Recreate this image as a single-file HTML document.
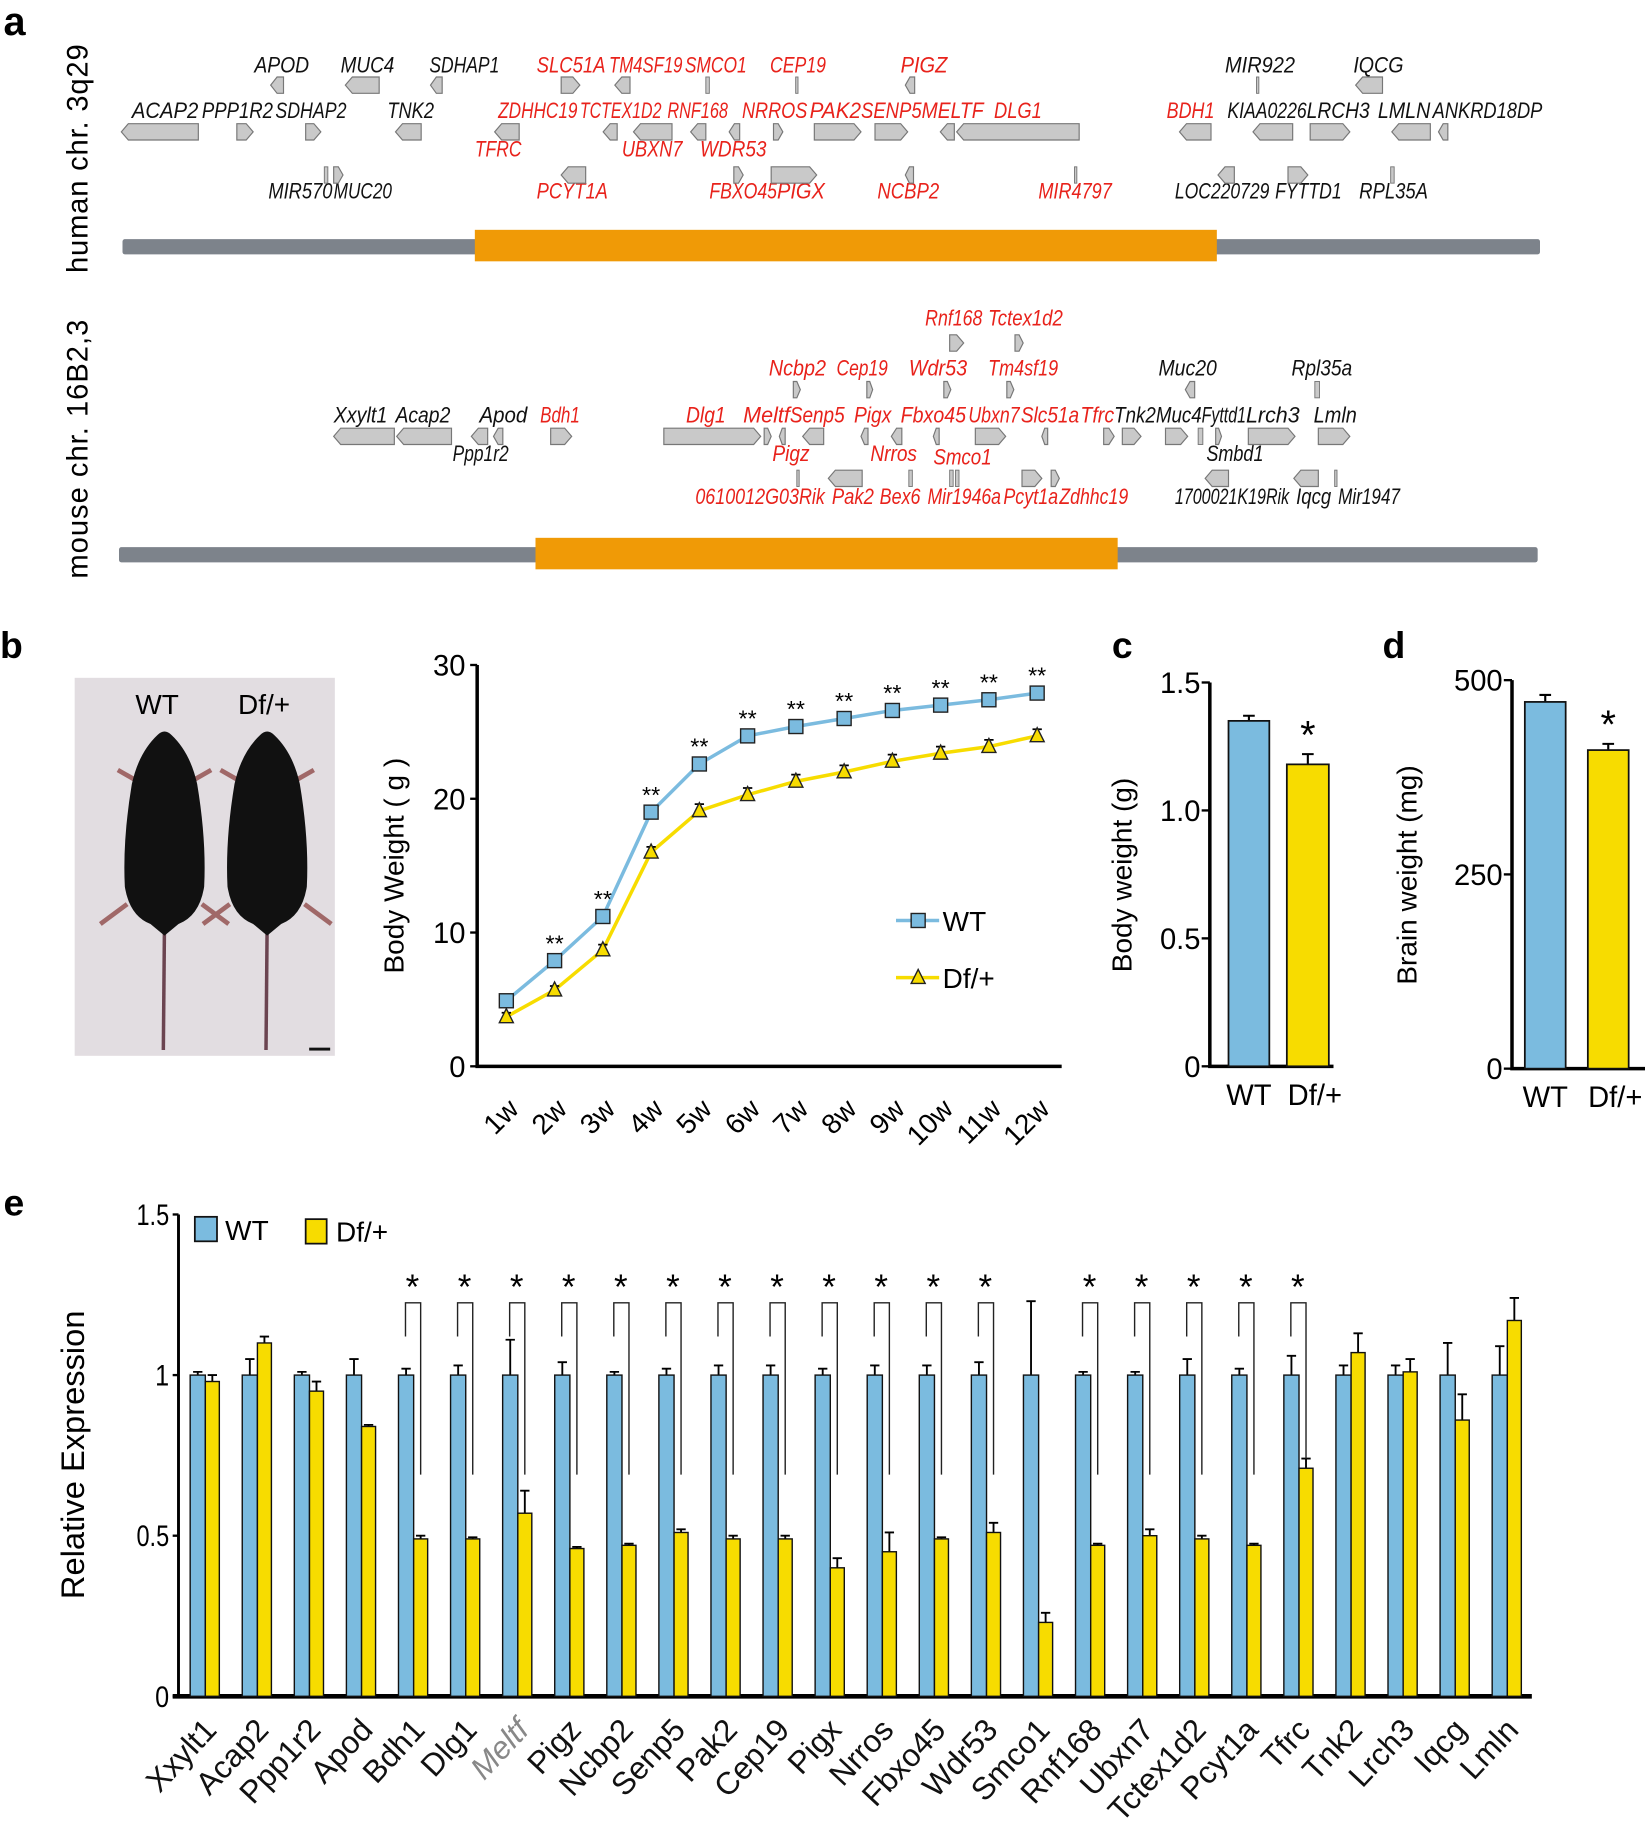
<!DOCTYPE html>
<html><head><meta charset="utf-8"><style>
html,body{margin:0;padding:0;background:#fff;}
svg{display:block;}
text{font-family:"Liberation Sans",sans-serif;}
.g{font-style:italic;font-size:19px;}
</style></head><body>
<svg id="fig" xmlns="http://www.w3.org/2000/svg" width="1645" height="1830" viewBox="0 0 1410 1568.6" preserveAspectRatio="none">
<g id="pa"></g>
<g id="pb"></g>
<g id="pc"></g>
<g id="pd"></g>
<g id="pe"></g>
</svg>
<script>
// ===== data =====
const weeks = ["1w","2w","3w","4w","5w","6w","7w","8w","9w","10w","11w","12w"];
const wtWeight = [4.9,7.9,11.2,19.0,22.6,24.7,25.4,26.0,26.6,27.0,27.4,27.9];
const dfWeight = [3.7,5.7,8.7,16.0,19.1,20.3,21.3,22.0,22.8,23.4,23.9,24.7];
const wtWeightErr = [0.3,0.3,0.4,0.4,0.4,0.4,0.4,0.4,0.4,0.4,0.4,0.4];
const dfWeightErr = [0.3,0.3,0.4,0.4,0.5,0.5,0.5,0.5,0.5,0.5,0.5,0.5];
const weightTicks = [0,10,20,30];
const bodyVals = [1.35,1.18];
const bodyErr = [0.02,0.04];
const bodyTicks = ["0","0.5","1.0","1.5"];
const brainVals = [472,410];
const brainErr = [9,8];
const brainTicks = [0,250,500];
const genes = ["Xxylt1","Acap2","Ppp1r2","Apod","Bdh1","Dlg1","Meltf","Pigz","Ncbp2","Senp5","Pak2","Cep19","Pigx","Nrros","Fbxo45","Wdr53","Smco1","Rnf168","Ubxn7","Tctex1d2","Pcyt1a","Tfrc","Tnk2","Lrch3","Iqcg","Lmln"];
const wtExpr = [1,1,1,1,1,1,1,1,1,1,1,1,1,1,1,1,1,1,1,1,1,1,1,1,1,1];
const wtExprErr = [0.01,0.05,0.01,0.05,0.02,0.03,0.11,0.04,0.01,0.02,0.03,0.03,0.02,0.03,0.03,0.04,0.23,0.01,0.01,0.05,0.02,0.06,0.03,0.03,0.10,0.09];
const dfExpr = [0.98,1.10,0.95,0.84,0.49,0.49,0.57,0.46,0.47,0.51,0.49,0.49,0.40,0.45,0.49,0.51,0.23,0.47,0.50,0.49,0.47,0.71,1.07,1.01,0.86,1.17];
const dfExprErr = [0.02,0.02,0.03,0.005,0.01,0.005,0.07,0.005,0.005,0.01,0.01,0.01,0.03,0.06,0.005,0.03,0.03,0.005,0.02,0.01,0.005,0.03,0.06,0.04,0.08,0.07];
const signif = [0,0,0,0,1,1,1,1,1,1,1,1,1,1,1,1,0,1,1,1,1,1,0,0,0,0];
const exprTicks = ["0","0.5","1","1.5"];

const NS="http://www.w3.org/2000/svg";
function el(parent,tag,attrs,txt){const e=document.createElementNS(NS,tag);for(const k in attrs)e.setAttribute(k,attrs[k]);if(txt!==undefined)e.textContent=txt;parent.appendChild(e);return e;}
const BLUE="#7bbbdf", YEL="#f7dc00", RED="#e8221b";

// ===== panel a =====
const pa=document.getElementById('pa');
let t=el(pa,'text',{x:3,y:30,'font-size':34,'font-weight':'bold'},'a');


function lab(x1,x2,y,s,c){const e=el(pa,'text',{x:x1,y:y,class:'g',fill:c||'#111',textLength:x2-x1,lengthAdjust:'spacingAndGlyphs'},s);

}
function gene(x1,x2,y,d){let e;const h=7;
if(x2-x1<5){e=el(pa,'rect',{x:x1,y:y-h,width:Math.max(2,x2-x1),height:2*h,fill:'#c9c9c9',stroke:'#777','stroke-width':0.8});}
else{const a=Math.min(6,(x2-x1)/2);let p;
if(d>0)p=`${x1},${y-h} ${x2-a},${y-h} ${x2},${y} ${x2-a},${y+h} ${x1},${y+h}`;
else p=`${x1+a},${y-h} ${x2},${y-h} ${x2},${y+h} ${x1+a},${y+h} ${x1},${y}`;
e=el(pa,'polygon',{points:p,fill:'#c9c9c9',stroke:'#777','stroke-width':1});}

}
// human
t=el(pa,'text',{x:0,y:0,'font-size':25,transform:'translate(75,234) rotate(-90)',textLength:196,lengthAdjust:'spacing'},'human chr. 3q29');


[[218,265,62,'APOD'],[292,338,62,'MUC4'],[368,428,62,'SDHAP1'],[1050,1110,62,'MIR922'],[1160,1203,62,'IQCG'],
[113,170,101,'ACAP2'],[173,234,101,'PPP1R2'],[236,297,101,'SDHAP2'],[332,372,101,'TNK2'],[1052,1120,101,'KIAA0226'],[1120,1174,101,'LRCH3'],[1181,1226,101,'LMLN'],[1228,1322,101,'ANKRD18DP'],
[230,285,170,'MIR570'],[286,336,170,'MUC20'],[1007,1088,170,'LOC220729'],[1093,1150,170,'FYTTD1'],[1165,1224,170,'RPL35A']].forEach(a=>lab(a[0],a[1],a[2],a[3]));
[[460,519,62,'SLC51A'],[522,585,62,'TM4SF19'],[587,640,62,'SMCO1'],[660,708,62,'CEP19'],[772,812,62,'PIGZ'],
[427,495,101,'ZDHHC19'],[497,567,101,'TCTEX1D2'],[572,624,101,'RNF168'],[636,692,101,'NRROS'],[694,738,101,'PAK2'],[738,790,101,'SENP5'],[790,843,101,'MELTF'],[852,893,101,'DLG1'],[1000,1041,101,'BDH1'],
[407,447,134,'TFRC'],[533,585,134,'UBXN7'],[600,657,134,'WDR53'],
[460,521,170,'PCYT1A'],[608,666,170,'FBXO45'],[666,707,170,'PIGX'],[752,805,170,'NCBP2'],[890,953,170,'MIR4797']].forEach(a=>lab(a[0],a[1],a[2],a[3],RED));
[[232,243,73,-1],[296,325,73,-1],[369,379,73,-1],[481,497,73,1],[527,540,73,-1],[605,608,73,-1],[682,684,73,0],[776,784,73,-1],[1077,1079,73,0],[1162,1185,73,-1],
[104,170,113,-1],[203,217,113,1],[262,275,113,1],[339,361,113,-1],[424,445,113,-1],[517,529,113,-1],[543,576,113,-1],[592,605,113,-1],[625,634,113,-1],[663,671,113,1],[698,738,113,1],[750,778,113,1],[806,818,113,-1],[820,925,113,-1],[1011,1038,113,-1],[1074,1108,113,-1],[1123,1157,113,1],[1193,1226,113,-1],[1233,1241,113,-1],
[278,281,150,0],[286,294,150,1],[481,502,150,-1],[629,637,150,1],[661,700,150,1],[776,783,150,-1],[921,923,150,0],[1044,1058,150,-1],[1104,1121,150,1],[1192,1195,150,0]].forEach(a=>gene(a[0],a[1],a[2],a[3]));
let r=el(pa,'rect',{x:105,y:205,width:1215,height:13,fill:'#7d838b',rx:2});


r=el(pa,'rect',{x:407,y:197,width:636,height:27,fill:'#f09a06'});


// mouse
t=el(pa,'text',{x:0,y:0,'font-size':25,transform:'translate(75,496) rotate(-90)',textLength:222,lengthAdjust:'spacing'},'mouse chr. 16B2,3');


[[993,1043,322,'Muc20'],[1107,1159,322,'Rpl35a'],[286,332,362,'Xxylt1'],[339,386,362,'Acap2'],[411,452,362,'Apod'],[955,1030,362,'Tnk2Muc4'],[1030,1068,362,'Fyttd1'],[1068,1114,362,'Lrch3'],[1126,1163,362,'Lmln'],
[388,436,395,'Ppp1r2'],[1034,1083,395,'Smbd1'],[1007,1105,432,'1700021K19Rik'],[1111,1141,432,'Iqcg'],[1147,1200,432,'Mir1947']].forEach(a=>lab(a[0],a[1],a[2],a[3]));
[[793,842,279,'Rnf168'],[847,911,279,'Tctex1d2'],[659,708,322,'Ncbp2'],[717,761,322,'Cep19'],[779,829,322,'Wdr53'],[847,907,322,'Tm4sf19'],
[463,497,362,'Bdh1'],[588,622,362,'Dlg1'],[637,677,362,'Meltf'],[677,724,362,'Senp5'],[732,764,362,'Pigx'],[772,828,362,'Fbxo45'],[830,874,362,'Ubxn7'],[875,925,362,'Slc51a'],[926,955,362,'Tfrc'],
[662,694,395,'Pigz'],[746,786,395,'Nrros'],[800,850,398,'Smco1'],
[596,707,432,'0610012G03Rik'],[713,749,432,'Pak2'],[754,789,432,'Bex6'],[795,858,432,'Mir1946a'],[860,907,432,'Pcyt1a'],[908,967,432,'Zdhhc19']].forEach(a=>lab(a[0],a[1],a[2],a[3],RED));
[[814,826,294,1],[870,877,294,1],[680,686,334,1],[743,748,334,1],[809,815,334,1],[863,869,334,1],[1016,1024,334,-1],[1127,1131,334,1],
[286,338,374,-1],[340,387,374,-1],[404,418,374,-1],[423,431,374,-1],[472,490,374,1],[569,652,374,1],[655,661,374,1],[668,673,374,-1],[688,706,374,-1],[738,744,374,-1],[764,773,374,-1],[800,805,374,-1],[836,862,374,1],[893,898,374,-1],[946,955,374,1],[962,978,374,1],[999,1018,374,1],[1027,1031,374,-1],[1042,1047,374,1],[1070,1110,374,1],[1130,1157,374,1],
[683,685,410,0],[710,739,410,-1],[779,782,410,0],[814,817,410,0],[819,822,410,0],[876,893,410,1],[901,908,410,1],[1033,1053,410,-1],[1109,1130,410,-1],[1144,1146,410,0]].forEach(a=>gene(a[0],a[1],a[2],a[3]));
r=el(pa,'rect',{x:102,y:469,width:1216,height:13,fill:'#7d838b',rx:2});


r=el(pa,'rect',{x:459,y:461,width:499,height:27,fill:'#f09a06'});



// ===== panel b =====
const pb=document.getElementById('pb');
t=el(pb,'text',{x:0,y:564,'font-size':32,'font-weight':'bold'},'b');


const ph=el(pb,'g',{});


el(ph,'rect',{x:64,y:581,width:223,height:324,fill:'#e2dde1'});
[[141,0],[229,1]].forEach(([cx,k])=>{
 el(ph,'line',{x1:cx,y1:790,x2:cx-1,y2:900,stroke:'#6b4450','stroke-width':3});
 el(ph,'path',{d:`M${cx-32},775 L${cx-55},792 M${cx+32},775 L${cx+55},792 M${cx-26},668 L${cx-40},660 M${cx+26},668 L${cx+40},660`,stroke:'#a06868','stroke-width':4});
 el(ph,'path',{d:`M${cx-6},630 Q${cx},624 ${cx+6},630 Q${cx+22},645 ${cx+28},672 Q${cx+36},720 ${cx+34},760 Q${cx+30},785 ${cx+12},792 L${cx},802 L${cx-12},792 Q${cx-30},785 ${cx-34},760 Q${cx-36},720 ${cx-28},672 Q${cx-22},645 ${cx-6},630 Z`,fill:'#111'});
});
t=el(ph,'text',{x:116,y:612,'font-size':24},'WT');
t=el(ph,'text',{x:204,y:612,'font-size':24},'Df/+');
el(ph,'rect',{x:265,y:898,width:18,height:2.5,fill:'#111'});

const bx0=409,by0=914,bsy=(914-570)/30;
const bx=i=>434+i*(889-434)/11, byv=v=>by0-v*bsy;
const axb=el(pb,'path',{d:`M${bx0},${byv(30)} L${bx0},${by0} L910,${by0}`,stroke:'#000','stroke-width':3,fill:'none'});


weightTicks.forEach(v=>{el(pb,'line',{x1:bx0-6,y1:byv(v),x2:bx0,y2:byv(v),stroke:'#000','stroke-width':2});
 const e=el(pb,'text',{x:bx0-10,y:byv(v)+9,'font-size':25,'text-anchor':'end'},String(v));
 
 });
weeks.forEach((w,i)=>{const e=el(pb,'text',{x:0,y:0,'font-size':24,'text-anchor':'end',transform:`translate(${bx(i)+12},${by0+38}) rotate(-45)`},w);
 
 });
t=el(pb,'text',{x:0,y:0,'font-size':24,'text-anchor':'middle',transform:`translate(346,742) rotate(-90)`},'Body Weight ( g )');


function series(vals,errs,col,mark,name){
 const l=el(pb,'polyline',{points:vals.map((v,i)=>bx(i)+','+byv(v)).join(' '),fill:'none',stroke:col,'stroke-width':3});
 
 
 vals.forEach((v,i)=>{const x=bx(i),y=byv(v);
  el(pb,'path',{d:`M${x},${y} L${x},${byv(v+errs[i])} M${x-4},${byv(v+errs[i])} L${x+4},${byv(v+errs[i])}`,stroke:'#000','stroke-width':1.5});
  let m;
  if(mark==='sq')m=el(pb,'rect',{x:x-6,y:y-6,width:12,height:12,fill:BLUE,stroke:'#222','stroke-width':1.2});
  else m=el(pb,'polygon',{points:`${x},${y-7} ${x+6},${y+5} ${x-6},${y+5}`,fill:YEL,stroke:'#222','stroke-width':1.2});
  
  });
}
series(wtWeight,wtWeightErr,BLUE,'sq','wt');
series(dfWeight,dfWeightErr,YEL,'tri','df');
wtWeight.forEach((v,i)=>{if(i>0){const e=el(pb,'text',{x:bx(i),y:byv(v)-8,'font-size':20,'text-anchor':'middle'},'**');
 
 }});
const lg=el(pb,'g',{});


el(lg,'line',{x1:768,y1:789,x2:805,y2:789,stroke:BLUE,'stroke-width':3});
el(lg,'rect',{x:781,y:783,width:12,height:12,fill:BLUE,stroke:'#222','stroke-width':1.2});
el(lg,'text',{x:808,y:798,'font-size':24},'WT');
el(lg,'line',{x1:768,y1:838,x2:805,y2:838,stroke:YEL,'stroke-width':3});
el(lg,'polygon',{points:'787,831 793,843 781,843',fill:YEL,stroke:'#222','stroke-width':1.2});
el(lg,'text',{x:808,y:847,'font-size':24},'Df/+');

// ===== panels c & d =====
function barPanel(id,letter,lx,ax,y0,yTop,max,ticks,tickLabels,vals,errs,b1,b2,axEnd,title,tx){
 const p=document.getElementById(id);
 let e=el(p,'text',{x:lx,y:564,'font-size':32,'font-weight':'bold'},letter);
 
 
 const yv=v=>y0-v*(y0-yTop)/max;
 e=el(p,'path',{d:`M${ax},${yTop} L${ax},${y0} L${axEnd},${y0}`,stroke:'#000','stroke-width':3,fill:'none'});
 
 
 ticks.forEach((v,i)=>{el(p,'line',{x1:ax-7,y1:yv(v),x2:ax,y2:yv(v),stroke:'#000','stroke-width':2});
  const q=el(p,'text',{x:ax-8,y:yv(v)+9,'font-size':25,'text-anchor':'end'},tickLabels[i]);
  
  });
 [[b1,BLUE,'WT'],[b2,YEL,'Df/+']].forEach(([bb,c,n],i)=>{
  el(p,'path',{d:`M${bb[0]+bb[1]/2},${yv(vals[i])} L${bb[0]+bb[1]/2},${yv(vals[i]+errs[i])} M${bb[0]+bb[1]/2-5},${yv(vals[i]+errs[i])} L${bb[0]+bb[1]/2+5},${yv(vals[i]+errs[i])}`,stroke:'#000','stroke-width':1.8});
  const b=el(p,'rect',{x:bb[0],y:yv(vals[i]),width:bb[1],height:y0-yv(vals[i]),fill:c,stroke:'#111','stroke-width':1.5});
  
  
  const q=el(p,'text',{x:bb[0]+bb[1]/2+(i?6:0),y:y0+33,'font-size':25,'text-anchor':'middle'},n);
  
  });
 e=el(p,'text',{x:b2[0]+b2[1]/2,y:yv(vals[1]+errs[1])-5,'font-size':34,'text-anchor':'middle'},'*');
 
 
 e=el(p,'text',{x:0,y:0,'font-size':24,'text-anchor':'middle',transform:`translate(${tx},750) rotate(-90)`},title);
 
 
}
barPanel('pc','c',953,1037,914,585,1.5,[0,0.5,1.0,1.5],bodyTicks,bodyVals,bodyErr,[1053,35],[1103,36],1143,'Body weight (g)',970);
barPanel('pd','d',1185,1296,916,583,500,brainTicks,brainTicks.map(String),brainVals,brainErr,[1307,35],[1361,35],1410,'Brain weight (mg)',1214);

// ===== panel e =====
const pe=document.getElementById('pe');
t=el(pe,'text',{x:3,y:1042,'font-size':32,'font-weight':'bold'},'e');


const ey0=1454,eyT=1041,ex0=153;
const eyv=v=>ey0-v*(ey0-eyT)/1.5;
const gx=i=>163+i*(1279-163)/25;
t=el(pe,'line',{x1:ex0,y1:eyT,x2:ex0,y2:ey0,stroke:'#000','stroke-width':2.5});


t=el(pe,'line',{x1:148,y1:ey0,x2:1313,y2:ey0,stroke:'#000','stroke-width':4});


exprTicks.forEach(s=>{const v=parseFloat(s);el(pe,'line',{x1:ex0-5,y1:eyv(v),x2:ex0,y2:eyv(v),stroke:'#000','stroke-width':2});
 const q=el(pe,'text',{x:ex0-8,y:eyv(v)+9,'font-size':25,'text-anchor':'end',textLength:s.length>1?28:12,lengthAdjust:'spacingAndGlyphs'},s);
 
 });
t=el(pe,'text',{x:0,y:0,'font-size':28,'text-anchor':'middle',transform:'translate(72,1247) rotate(-90)'},'Relative Expression');


function errbar(x,v,e){el(pe,'path',{d:`M${x},${eyv(v)} L${x},${eyv(v+e)} M${x-4},${eyv(v+e)} L${x+4},${eyv(v+e)}`,stroke:'#000','stroke-width':1.6});}
genes.forEach((g,i)=>{
 const x=gx(i);
 errbar(x+6.5,wtExpr[i],wtExprErr[i]);
 errbar(x+19,dfExpr[i],dfExprErr[i]);
 let b=el(pe,'rect',{x:x,y:eyv(wtExpr[i]),width:13,height:ey0-eyv(wtExpr[i]),fill:BLUE,stroke:'#111','stroke-width':1.2});
 
 
 b=el(pe,'rect',{x:x+13,y:eyv(dfExpr[i]),width:12,height:ey0-eyv(dfExpr[i]),fill:YEL,stroke:'#111','stroke-width':1.2});
 
 
 if(signif[i]){
  const br=el(pe,'path',{d:`M${x+6},${eyv(1.12)} L${x+6},${eyv(1.225)} L${x+19},${eyv(1.225)} L${x+19},${eyv(Math.max(0.69,dfExpr[i]+dfExprErr[i]))}`,stroke:'#222','stroke-width':1.2,fill:'none'});
  
  
  const s=el(pe,'text',{x:x+12,y:eyv(1.23)-2,'font-size':30,'text-anchor':'middle'},'*');
  
  
 }
 const l=el(pe,'text',{x:0,y:0,'font-size':27,'text-anchor':'end',fill:g==='Meltf'?'#888':'#111','font-style':g==='Meltf'?'italic':'normal',transform:`translate(${x+24},${ey0+30}) rotate(-47)`},g);
 
 
});
const le=el(pe,'g',{});


el(le,'rect',{x:167,y:1043,width:19,height:21,fill:BLUE,stroke:'#111','stroke-width':1.5});
el(le,'text',{x:193,y:1063,'font-size':24},'WT');
el(le,'rect',{x:262,y:1045,width:18,height:21,fill:YEL,stroke:'#111','stroke-width':1.5});
el(le,'text',{x:288,y:1064,'font-size':24},'Df/+');
</script>
</body></html>
